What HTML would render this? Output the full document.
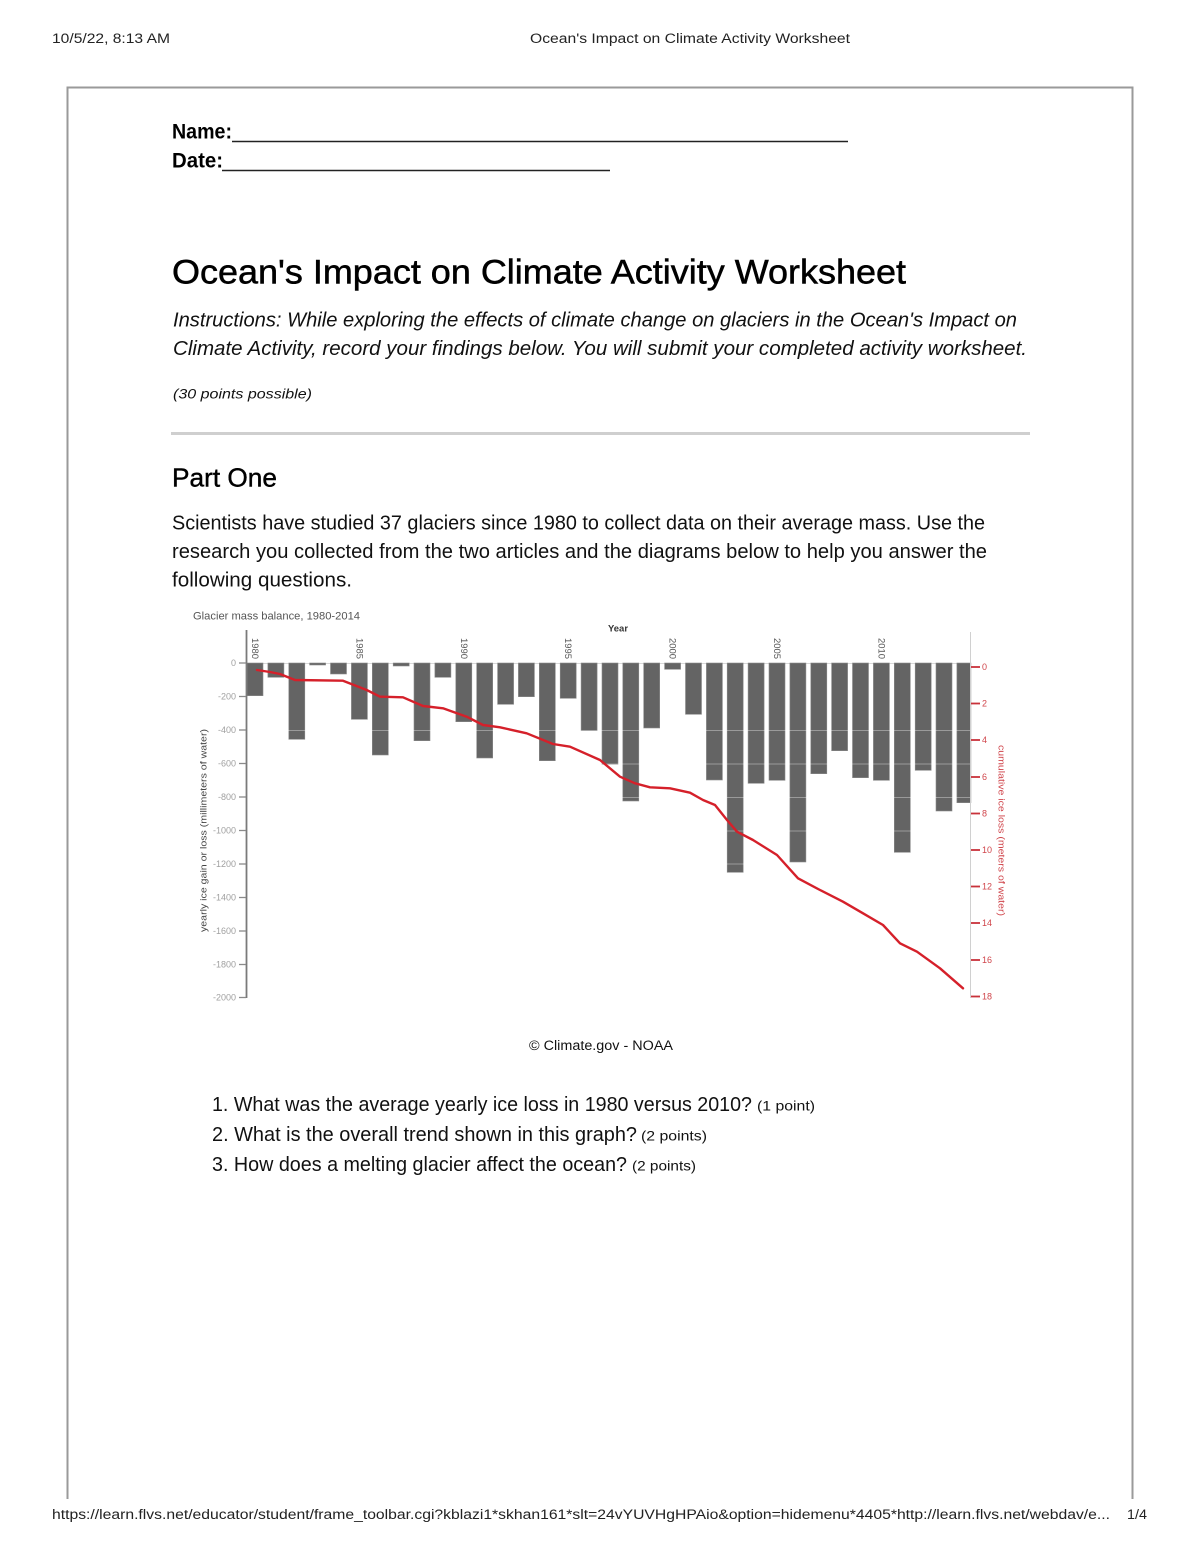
<!DOCTYPE html>
<html>
<head>
<meta charset="utf-8">
<style>
  html,body{margin:0;padding:0;background:#fff;}
  svg{display:block;}
  text{font-family:"Liberation Sans", sans-serif;}
</style>
</head>
<body>
<svg width="1200" height="1553" viewBox="0 0 1200 1553" xmlns="http://www.w3.org/2000/svg">
  <rect x="0" y="0" width="1200" height="1553" fill="#fff"/>

  <!-- browser header -->
  <text x="52" y="43" font-size="13.5" fill="#222" textLength="118" lengthAdjust="spacingAndGlyphs">10/5/22, 8:13 AM</text>
  <text x="530" y="43" font-size="13.5" fill="#222" textLength="320" lengthAdjust="spacingAndGlyphs">Ocean's Impact on Climate Activity Worksheet</text>

  <!-- page border -->
  <path d="M67.5 1499 L67.5 87.5 L1132.5 87.5 L1132.5 1499" fill="none" stroke="#9a9a9a" stroke-width="2"/>

  <!-- Name / Date -->
  <text x="172" y="138.5" font-size="21" font-weight="bold" fill="#000" textLength="60" lengthAdjust="spacingAndGlyphs">Name:</text>
  <line x1="232" y1="141.5" x2="848" y2="141.5" stroke="#222" stroke-width="1.6"/>
  <text x="172" y="167.5" font-size="21" font-weight="bold" fill="#000" textLength="51" lengthAdjust="spacingAndGlyphs">Date:</text>
  <line x1="222" y1="170.5" x2="610" y2="170.5" stroke="#222" stroke-width="1.6"/>

  <!-- Title -->
  <text x="172" y="283.5" font-size="34" fill="#000" stroke="#000" stroke-width="0.5" textLength="734" lengthAdjust="spacingAndGlyphs">Ocean's Impact on Climate Activity Worksheet</text>

  <!-- Instructions -->
  <text x="173" y="326.5" font-size="20" font-style="italic" fill="#111" textLength="844" lengthAdjust="spacingAndGlyphs">Instructions: While exploring the effects of climate change on glaciers in the Ocean's Impact on</text>
  <text x="173" y="355" font-size="20" font-style="italic" fill="#111" textLength="854" lengthAdjust="spacingAndGlyphs">Climate Activity, record your findings below. You will submit your completed activity worksheet.</text>
  <text x="173" y="398.5" font-size="14" font-style="italic" fill="#111" textLength="139" lengthAdjust="spacingAndGlyphs">(30 points possible)</text>

  <!-- HR -->
  <line x1="171" y1="433.5" x2="1030" y2="433.5" stroke="#cfcfcf" stroke-width="3"/>

  <!-- Part One -->
  <text x="172" y="486.5" font-size="26" fill="#000" stroke="#000" stroke-width="0.4" textLength="105" lengthAdjust="spacingAndGlyphs">Part One</text>

  <text x="172" y="529.5" font-size="20" fill="#111" textLength="813" lengthAdjust="spacingAndGlyphs">Scientists have studied 37 glaciers since 1980 to collect data on their average mass. Use the</text>
  <text x="172" y="558" font-size="20" fill="#111" textLength="815" lengthAdjust="spacingAndGlyphs">research you collected from the two articles and the diagrams below to help you answer the</text>
  <text x="172" y="586.5" font-size="20" fill="#111" textLength="180" lengthAdjust="spacingAndGlyphs">following questions.</text>

  <!-- ============ CHART ============ -->
  <text x="193" y="619.5" font-size="11" fill="#555" textLength="167" lengthAdjust="spacingAndGlyphs">Glacier mass balance, 1980-2014</text>
  <text x="608" y="631.5" font-size="9.5" font-weight="bold" fill="#333" textLength="20" lengthAdjust="spacingAndGlyphs">Year</text>

  <!-- zero line -->
  <line x1="247" y1="663.5" x2="971" y2="663.5" stroke="#d8d8d8" stroke-width="1"/>

  <!-- bars -->
  <g fill="#646464" stroke="#8a8a8a" stroke-width="0.6">
    <rect x="247.0" y="663" width="16" height="32.7"/>
    <rect x="267.9" y="663" width="16" height="14.3"/>
    <rect x="288.8" y="663" width="16" height="76.3"/>
    <rect x="309.6" y="663" width="16" height="2"/>
    <rect x="330.5" y="663" width="16" height="11"/>
    <rect x="351.4" y="663" width="16" height="56.3"/>
    <rect x="372.3" y="663" width="16" height="92"/>
    <rect x="393.2" y="663" width="16" height="3"/>
    <rect x="414.0" y="663" width="16" height="77.7"/>
    <rect x="434.9" y="663" width="16" height="14.3"/>
    <rect x="455.8" y="663" width="16" height="58.7"/>
    <rect x="476.7" y="663" width="16" height="95"/>
    <rect x="497.6" y="663" width="16" height="41.3"/>
    <rect x="518.4" y="663" width="16" height="33.7"/>
    <rect x="539.3" y="663" width="16" height="97.7"/>
    <rect x="560.2" y="663" width="16" height="35.3"/>
    <rect x="581.1" y="663" width="16" height="67.7"/>
    <rect x="602.0" y="663" width="16" height="101.3"/>
    <rect x="622.8" y="663" width="16" height="138"/>
    <rect x="643.7" y="663" width="16" height="65"/>
    <rect x="664.6" y="663" width="16" height="6.3"/>
    <rect x="685.5" y="663" width="16" height="51.3"/>
    <rect x="706.4" y="663" width="16" height="117"/>
    <rect x="727.2" y="663" width="16" height="209.3"/>
    <rect x="748.1" y="663" width="16" height="120.3"/>
    <rect x="769.0" y="663" width="16" height="117.3"/>
    <rect x="789.9" y="663" width="16" height="199"/>
    <rect x="810.8" y="663" width="16" height="110.7"/>
    <rect x="831.6" y="663" width="16" height="87.7"/>
    <rect x="852.5" y="663" width="16" height="114.7"/>
    <rect x="873.4" y="663" width="16" height="117.3"/>
    <rect x="894.3" y="663" width="16" height="189.3"/>
    <rect x="915.2" y="663" width="16" height="107.3"/>
    <rect x="936.0" y="663" width="16" height="148"/>
    <rect x="956.9" y="663" width="14" height="139.7"/>
  </g>

  <!-- faint gridlines over bars -->
  <g stroke="#ffffff" stroke-opacity="0.35" stroke-width="1">
    <line x1="247" y1="730.5" x2="971" y2="730.5"/>
    <line x1="247" y1="764" x2="971" y2="764"/>
    <line x1="247" y1="797.5" x2="971" y2="797.5"/>
    <line x1="247" y1="831" x2="971" y2="831"/>
    <line x1="247" y1="864" x2="971" y2="864"/>
  </g>

  <!-- year labels (rotated) -->
  <g font-size="9" fill="#555">
    <text transform="translate(252,638) rotate(90)" textLength="21" lengthAdjust="spacingAndGlyphs">1980</text>
    <text transform="translate(356.4,638) rotate(90)" textLength="21" lengthAdjust="spacingAndGlyphs">1985</text>
    <text transform="translate(460.8,638) rotate(90)" textLength="21" lengthAdjust="spacingAndGlyphs">1990</text>
    <text transform="translate(565.2,638) rotate(90)" textLength="21" lengthAdjust="spacingAndGlyphs">1995</text>
    <text transform="translate(669.6,638) rotate(90)" textLength="21" lengthAdjust="spacingAndGlyphs">2000</text>
    <text transform="translate(774,638) rotate(90)" textLength="21" lengthAdjust="spacingAndGlyphs">2005</text>
    <text transform="translate(878.4,638) rotate(90)" textLength="21" lengthAdjust="spacingAndGlyphs">2010</text>
  </g>

  <!-- left axis -->
  <line x1="246.5" y1="630" x2="246.5" y2="998" stroke="#7a7a7a" stroke-width="1.8"/>
  <g stroke="#8a8a8a" stroke-width="1.3">
    <line x1="239" y1="663" x2="246" y2="663"/>
    <line x1="239" y1="696.5" x2="246" y2="696.5"/>
    <line x1="239" y1="730" x2="246" y2="730"/>
    <line x1="239" y1="763.5" x2="246" y2="763.5"/>
    <line x1="239" y1="797" x2="246" y2="797"/>
    <line x1="239" y1="830.5" x2="246" y2="830.5"/>
    <line x1="239" y1="864" x2="246" y2="864"/>
    <line x1="239" y1="897.5" x2="246" y2="897.5"/>
    <line x1="239" y1="931" x2="246" y2="931"/>
    <line x1="239" y1="964.5" x2="246" y2="964.5"/>
    <line x1="239" y1="997.5" x2="246" y2="997.5"/>
  </g>
  <g font-size="9" fill="#a0a0a0" text-anchor="end">
    <text x="236" y="666">0</text>
    <text x="236" y="699.5">-200</text>
    <text x="236" y="733">-400</text>
    <text x="236" y="766.5">-600</text>
    <text x="236" y="800">-800</text>
    <text x="236" y="833.5">-1000</text>
    <text x="236" y="867">-1200</text>
    <text x="236" y="900.5">-1400</text>
    <text x="236" y="934">-1600</text>
    <text x="236" y="967.5">-1800</text>
    <text x="236" y="1000.5">-2000</text>
  </g>
  <text transform="translate(206.5,932) rotate(-90)" font-size="9.5" fill="#444" textLength="203" lengthAdjust="spacingAndGlyphs">yearly ice gain or loss (millimeters of water)</text>

  <!-- right axis -->
  <line x1="970.5" y1="632" x2="970.5" y2="998" stroke="#d0d0d0" stroke-width="1"/>
  <g stroke="#c8323a" stroke-width="1.8">
    <line x1="971" y1="667" x2="980" y2="667"/>
    <line x1="971" y1="703.5" x2="980" y2="703.5"/>
    <line x1="971" y1="740" x2="980" y2="740"/>
    <line x1="971" y1="777" x2="980" y2="777"/>
    <line x1="971" y1="813.5" x2="980" y2="813.5"/>
    <line x1="971" y1="850" x2="980" y2="850"/>
    <line x1="971" y1="886.5" x2="980" y2="886.5"/>
    <line x1="971" y1="923" x2="980" y2="923"/>
    <line x1="971" y1="960" x2="980" y2="960"/>
    <line x1="971" y1="996.5" x2="980" y2="996.5"/>
  </g>
  <g font-size="9" fill="#d0454b">
    <text x="982" y="670">0</text>
    <text x="982" y="706.5">2</text>
    <text x="982" y="743">4</text>
    <text x="982" y="780">6</text>
    <text x="982" y="816.5">8</text>
    <text x="982" y="853">10</text>
    <text x="982" y="889.5">12</text>
    <text x="982" y="926">14</text>
    <text x="982" y="963">16</text>
    <text x="982" y="999.5">18</text>
  </g>
  <text transform="translate(998.5,745) rotate(90)" font-size="9.5" fill="#d0454b" textLength="171" lengthAdjust="spacingAndGlyphs">cumulative ice loss (meters of water)</text>

  <!-- cumulative red line -->
  <polyline fill="none" stroke="#d5202a" stroke-width="2.4" stroke-linejoin="round" stroke-linecap="round"
    points="257,670 270,672 280,674 295,680 343,680.7 366.7,690 380,696.7 403,697.3 423,706 443,708.3 466.7,716.7 483,725 500,727.3 526.7,733.3 553,744 570,746.7 600,760 620,776.7 635,783.3 650,787.3 670,788.3 690,792.7 703,800 715,805 727,820 737,831.7 753,840 777,855 798,878.3 820,890 843,901.7 863,913.3 883,925 900,943.3 917,951.7 940,968.3 963,988.3"/>

  <!-- credit -->
  <text x="529" y="1050" font-size="13.5" fill="#111" textLength="144" lengthAdjust="spacingAndGlyphs">© Climate.gov - NOAA</text>

  <!-- questions -->
  <text x="212" y="1111" font-size="20" fill="#111" textLength="540" lengthAdjust="spacingAndGlyphs">1. What was the average yearly ice loss in 1980 versus 2010?</text>
  <text x="757" y="1110.5" font-size="14" fill="#111" textLength="58" lengthAdjust="spacingAndGlyphs">(1 point)</text>
  <text x="212" y="1141" font-size="20" fill="#111" textLength="425" lengthAdjust="spacingAndGlyphs">2. What is the overall trend shown in this graph?</text>
  <text x="641" y="1140.5" font-size="14" fill="#111" textLength="66" lengthAdjust="spacingAndGlyphs">(2 points)</text>
  <text x="212" y="1171" font-size="20" fill="#111" textLength="415" lengthAdjust="spacingAndGlyphs">3. How does a melting glacier affect the ocean?</text>
  <text x="632" y="1170.5" font-size="14" fill="#111" textLength="64" lengthAdjust="spacingAndGlyphs">(2 points)</text>

  <!-- footer -->
  <text x="52" y="1519" font-size="13.5" fill="#222" textLength="1058" lengthAdjust="spacingAndGlyphs">https://learn.flvs.net/educator/student/frame_toolbar.cgi?kblazi1*skhan161*slt=24vYUVHgHPAio&amp;option=hidemenu*4405*http://learn.flvs.net/webdav/e...</text>
  <text x="1127" y="1519" font-size="13.5" fill="#222" textLength="20" lengthAdjust="spacingAndGlyphs">1/4</text>
</svg>
</body>
</html>
